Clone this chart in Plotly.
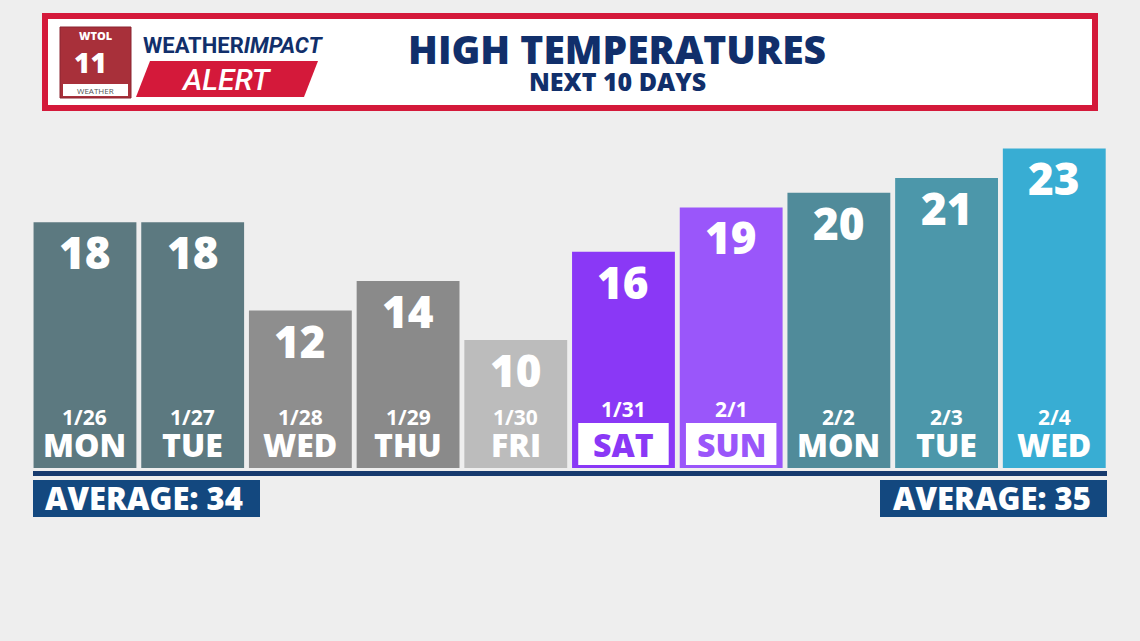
import plotly.graph_objects as go

dates = ["1/26", "1/27", "1/28", "1/29", "1/30", "1/31", "2/1", "2/2", "2/3", "2/4"]
days = ["MON", "TUE", "WED", "THU", "FRI", "SAT", "SUN", "MON", "TUE", "WED"]
highs = [18, 18, 12, 14, 10, 16, 19, 20, 21, 23]
colors = ["#5c7980", "#5c7980", "#8e8e8e", "#8a8a8a", "#bcbcbc",
          "#8a38f6", "#9a56fa", "#508b9a", "#4c97aa", "#38add3"]
avg_left = "AVERAGE: 34"
avg_right = "AVERAGE: 35"

W, H = 1140, 641
FONT = "Open Sans"
NAVY = "#112f6b"

def py(p):  # pixel y -> paper y
    return 1 - p / H

def px(p):
    return p / W

def label(xv, yv, text, font, xref="paper", **kw):
    return dict(x=xv, y=yv, xref=xref, yref="paper", text=text, showarrow=False,
                xanchor="center", yanchor="middle", font=font, **kw)

x = list(range(len(highs)))
fig = go.Figure(go.Bar(x=x, y=highs, marker=dict(color=colors, line_width=0),
                       width=0.955, hoverinfo="skip"))

ann = []
shapes = []
for i, (v, d, wd) in enumerate(zip(highs, dates, days)):
    ann.append(dict(x=i, y=v, xref="x", yref="y", xanchor="center", yanchor="top", yshift=2,
                    text=str(v), showarrow=False,
                    font=dict(family=FONT, size=44, color="white", weight=800)))
    wk = wd in ("SAT", "SUN")
    ann.append(label(i, py(409 if wk else 417), d,
                     dict(family=FONT, size=21, color="white", weight=700), xref="x"))
    if wk:
        shapes.append(dict(type="rect", xref="x", yref="paper", x0=i - 0.42, x1=i + 0.42,
                           y0=py(465), y1=py(423), fillcolor="white",
                           line=dict(width=0)))
    ann.append(label(i, py(444), wd,
                     dict(family=FONT, size=32, weight=800,
                          color=colors[i] if wk else "white"), xref="x"))

# header
shapes += [
    dict(type="rect", xref="paper", yref="paper", x0=px(45), x1=px(1095), y0=py(108), y1=py(16),
         fillcolor="white", line=dict(color="#d4193a", width=6)),
    dict(type="rect", xref="paper", yref="paper", x0=px(60), x1=px(131), y0=py(98), y1=py(27),
         fillcolor="#a8303a", line=dict(color="#8a2530", width=1)),
    dict(type="rect", xref="paper", yref="paper", x0=px(63), x1=px(128), y0=py(96), y1=py(84),
         fillcolor="white", line=dict(width=0)),
    dict(type="path", xref="paper", yref="paper",
         path=f"M {px(136)} {py(97)} L {px(150)} {py(61)} L {px(318)} {py(61)} L {px(304)} {py(97)} Z",
         fillcolor="#d4193a", line=dict(width=0)),
    dict(type="rect", xref="paper", yref="paper", x0=px(33), x1=px(1107), y0=py(476), y1=py(471),
         fillcolor="#163a6e", line=dict(width=0)),
    dict(type="rect", xref="paper", yref="paper", x0=px(33), x1=px(260), y0=py(517), y1=py(480),
         fillcolor="#13487f", line=dict(width=0)),
    dict(type="rect", xref="paper", yref="paper", x0=px(880), x1=px(1107), y0=py(517), y1=py(480),
         fillcolor="#13487f", line=dict(width=0)),
]

ann += [
    label(px(95), py(36), "WTOL", dict(family=FONT, size=11, color="white", weight=800)),
    label(px(90), py(62), "11", dict(family=FONT, size=28, color="white", weight=800)),
    label(px(95), py(90), "WEATHER", dict(family=FONT, size=8, color="#555555")),
    label(px(233), py(45), "WEATHER<i>IMPACT</i>",
          dict(family="Roboto", size=22, color=NAVY, weight=700)),
    label(px(226), py(79), "<i>ALERT</i>", dict(family="Roboto", size=30, color="white", weight=500)),
    label(px(617), py(48), "HIGH TEMPERATURES", dict(family=FONT, size=39, color=NAVY, weight=800)),
    label(px(617), py(81), "NEXT 10 DAYS", dict(family=FONT, size=25, color=NAVY, weight=800)),
    label(px(144), py(498), avg_left, dict(family=FONT, size=31, color="white", weight=800)),
    label(px(992), py(498), avg_right, dict(family=FONT, size=31, color="white", weight=800)),
]

fig.update_layout(
    width=W, height=H, margin=dict(l=0, r=0, t=0, b=0),
    paper_bgcolor="#eeeeee", plot_bgcolor="rgba(0,0,0,0)",
    showlegend=False, shapes=shapes, annotations=ann,
    xaxis=dict(range=[-0.789, 9.796], visible=False, fixedrange=True),
    yaxis=dict(range=[1.32, 25], domain=[py(468), py(119)], visible=False, fixedrange=True),
)

fig.write_html("out.html", config={"displayModeBar": False},
               post_script="document.body.style.margin='0';document.body.style.overflow='hidden';")
